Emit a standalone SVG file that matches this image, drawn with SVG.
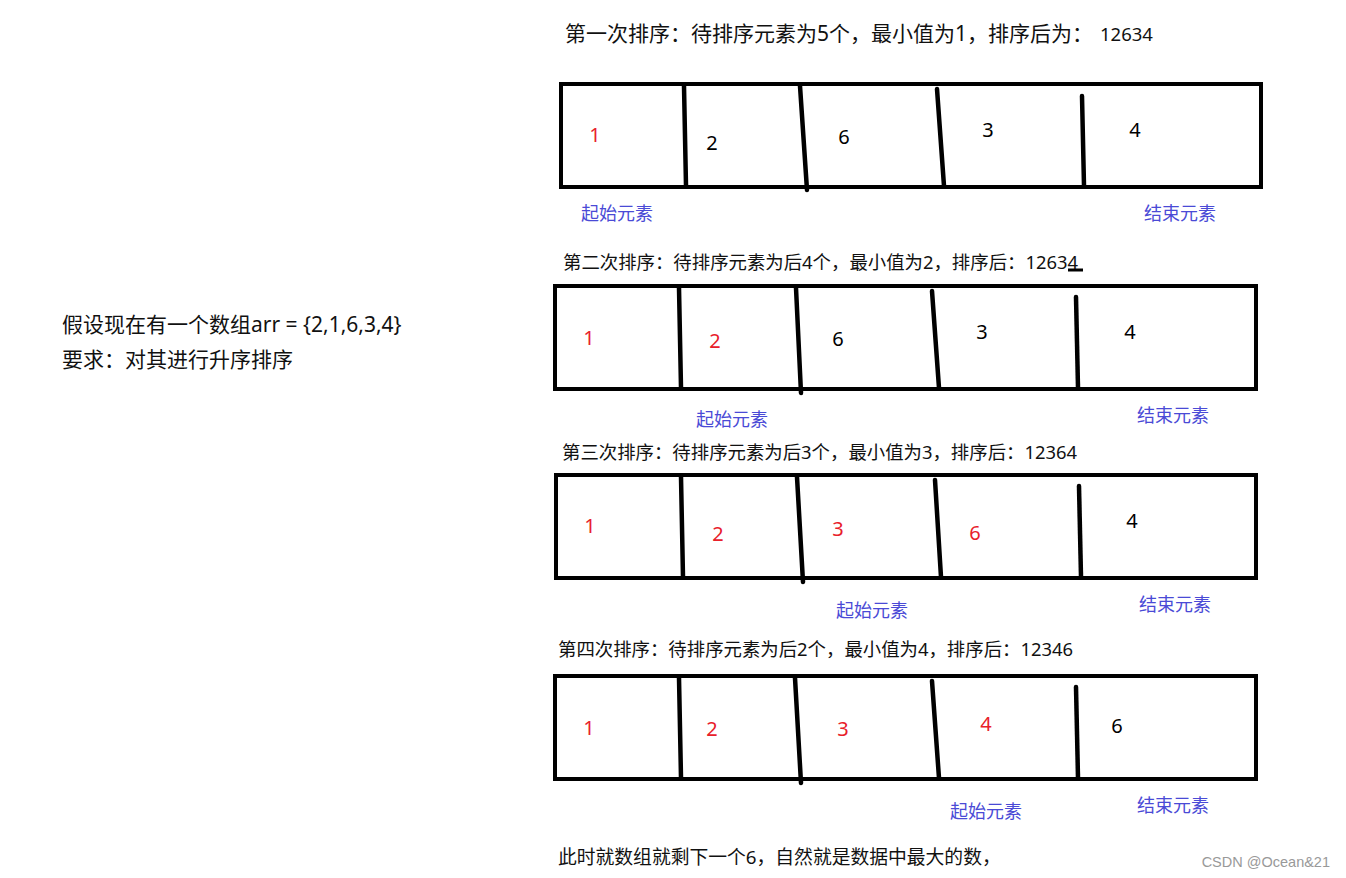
<svg xmlns="http://www.w3.org/2000/svg" width="1346" height="878" viewBox="0 0 1346 878">
<style>
.t{font-family:"Noto Sans","Noto Sans CJK SC",sans-serif;fill:#111}
.title{font-size:18.4px}
.box{fill:none;stroke:#000;stroke-width:4}
.div{stroke:#000;stroke-width:4.5;stroke-linecap:round}
.n{font-family:"Noto Sans","Noto Sans CJK SC",sans-serif;font-size:20px;text-anchor:middle}
.r{fill:#e8202a}
.k{fill:#000}
.lab{font-family:"Noto Sans","Noto Sans CJK SC",sans-serif;font-size:18px;fill:#4a4ad6;text-anchor:middle}
</style>
<rect width="1346" height="878" fill="#fff"/>

<g id="intro">
<text class="t" x="62" y="332" font-size="21">假设现在有一个数组arr = {2,1,6,3,4}</text>
<text class="t" x="62" y="367" font-size="21">要求：对其进行升序排序</text>
</g>

<g id="pass1">
<text class="t" x="565" y="41" font-size="21">第一次排序：待排序元素为5个，最小值为1，排序后为：</text>
<text class="t" x="1100" y="41" font-size="18.5">12634</text>
<rect class="box" x="561" y="84" width="700" height="103"/>
<line class="div" x1="684" y1="86" x2="686" y2="186"/>
<line class="div" x1="800" y1="86" x2="807" y2="190"/>
<line class="div" x1="937" y1="89" x2="944" y2="186"/>
<line class="div" x1="1082" y1="96" x2="1084" y2="186"/>
<text class="n r" x="595" y="142">1</text>
<text class="n k" x="712" y="150">2</text>
<text class="n k" x="844" y="144">6</text>
<text class="n k" x="988" y="137">3</text>
<text class="n k" x="1135" y="137">4</text>
<text class="lab" x="617" y="220">起始元素</text>
<text class="lab" x="1180" y="220">结束元素</text>
</g>

<g id="pass2">
<text class="t title" x="563" y="269">第二次排序：待排序元素为后4个，最小值为2，排序后：12634</text>
<line x1="1068" y1="270" x2="1083" y2="270" stroke="#000" stroke-width="3"/>
<rect class="box" x="555" y="286" width="701" height="103"/>
<line class="div" x1="679" y1="288" x2="681" y2="388"/>
<line class="div" x1="796" y1="288" x2="801" y2="393"/>
<line class="div" x1="932" y1="291" x2="939" y2="388"/>
<line class="div" x1="1076" y1="297" x2="1078" y2="388"/>
<text class="n r" x="589" y="345">1</text>
<text class="n r" x="715" y="348">2</text>
<text class="n k" x="838" y="346">6</text>
<text class="n k" x="982" y="339">3</text>
<text class="n k" x="1130" y="339">4</text>
<text class="lab" x="732" y="426">起始元素</text>
<text class="lab" x="1173" y="422">结束元素</text>
</g>

<g id="pass3">
<text class="t title" x="562" y="459">第三次排序：待排序元素为后3个，最小值为3，排序后：12364</text>
<rect class="box" x="556" y="475" width="700" height="103"/>
<line class="div" x1="681" y1="477" x2="683" y2="577"/>
<line class="div" x1="797" y1="477" x2="803" y2="582"/>
<line class="div" x1="935" y1="480" x2="941" y2="577"/>
<line class="div" x1="1079" y1="486" x2="1081" y2="577"/>
<text class="n r" x="590" y="533">1</text>
<text class="n r" x="718" y="541">2</text>
<text class="n r" x="838" y="536" font-size="17">3</text>
<text class="n r" x="975" y="540">6</text>
<text class="n k" x="1132" y="528">4</text>
<text class="lab" x="872" y="617">起始元素</text>
<text class="lab" x="1175" y="611">结束元素</text>
</g>

<g id="pass4">
<text class="t title" x="558" y="656">第四次排序：待排序元素为后2个，最小值为4，排序后：12346</text>
<rect class="box" x="555" y="676" width="701" height="103"/>
<line class="div" x1="679" y1="678" x2="681" y2="778"/>
<line class="div" x1="795" y1="678" x2="801" y2="783"/>
<line class="div" x1="932" y1="681" x2="939" y2="778"/>
<line class="div" x1="1076" y1="687" x2="1078" y2="778"/>
<text class="n r" x="589" y="735">1</text>
<text class="n r" x="712" y="736">2</text>
<text class="n r" x="843" y="736">3</text>
<text class="n r" x="986" y="731">4</text>
<text class="n k" x="1117" y="733" font-size="18">6</text>
<text class="lab" x="986" y="818">起始元素</text>
<text class="lab" x="1173" y="812">结束元素</text>
</g>

<g id="conclusion">
<text class="t" x="558" y="864" font-size="18.8">此时就数组就剩下一个6，自然就是数据中最大的数，</text>
</g>

<text x="1330" y="867" font-family="Liberation Sans, sans-serif" font-size="14.5" fill="#999" text-anchor="end">CSDN @Ocean&amp;21</text>
</svg>
